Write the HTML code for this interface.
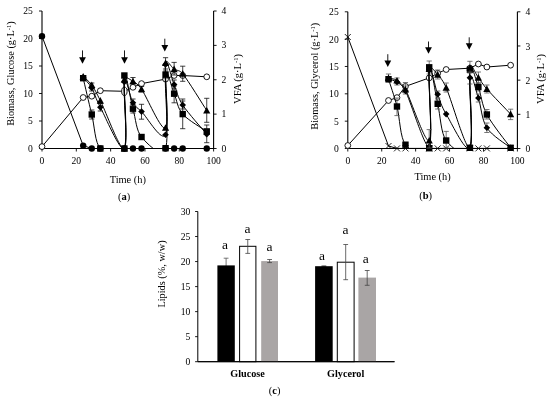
<!DOCTYPE html>
<html><head><meta charset="utf-8"><title>Figure</title>
<style>html,body{margin:0;padding:0;background:#fff}svg{display:block}</style></head>
<body>
<svg width="550" height="401" viewBox="0 0 550 401" font-family='"Liberation Serif", "Times New Roman", serif' fill="#000">
<rect width="550" height="401" fill="#fff"/>
<defs><clipPath id="clipa"><rect x="42" y="5" width="172" height="144"/></clipPath><clipPath id="clipb"><rect x="347.8" y="5" width="169.6" height="144"/></clipPath></defs>
<path d="M42,11V148.5H213.6V11" stroke="#000" stroke-width="1.1" fill="none"/>
<path d="M39,148.50H42" stroke="#000" stroke-width="0.9"/>
<text x="32.90" y="151.50" font-size="9.6" text-anchor="end" font-weight="normal">0</text>
<path d="M39,121.00H42" stroke="#000" stroke-width="0.9"/>
<text x="32.90" y="124.00" font-size="9.6" text-anchor="end" font-weight="normal">5</text>
<path d="M39,93.50H42" stroke="#000" stroke-width="0.9"/>
<text x="32.90" y="96.50" font-size="9.6" text-anchor="end" font-weight="normal">10</text>
<path d="M39,66.00H42" stroke="#000" stroke-width="0.9"/>
<text x="32.90" y="69.00" font-size="9.6" text-anchor="end" font-weight="normal">15</text>
<path d="M39,38.50H42" stroke="#000" stroke-width="0.9"/>
<text x="32.90" y="41.50" font-size="9.6" text-anchor="end" font-weight="normal">20</text>
<path d="M39,11.00H42" stroke="#000" stroke-width="0.9"/>
<text x="32.90" y="14.00" font-size="9.6" text-anchor="end" font-weight="normal">25</text>
<path d="M213.6,148.50H216.6" stroke="#000" stroke-width="0.9"/>
<text x="221.60" y="151.60" font-size="9.6" text-anchor="start" font-weight="normal">0</text>
<path d="M213.6,114.12H216.6" stroke="#000" stroke-width="0.9"/>
<text x="221.60" y="117.22" font-size="9.6" text-anchor="start" font-weight="normal">1</text>
<path d="M213.6,79.75H216.6" stroke="#000" stroke-width="0.9"/>
<text x="221.60" y="82.85" font-size="9.6" text-anchor="start" font-weight="normal">2</text>
<path d="M213.6,45.38H216.6" stroke="#000" stroke-width="0.9"/>
<text x="221.60" y="48.48" font-size="9.6" text-anchor="start" font-weight="normal">3</text>
<path d="M213.6,11.00H216.6" stroke="#000" stroke-width="0.9"/>
<text x="221.60" y="14.10" font-size="9.6" text-anchor="start" font-weight="normal">4</text>
<path d="M42.00,148.5V151.5" stroke="#000" stroke-width="0.9"/>
<text x="42.00" y="164.10" font-size="9.6" text-anchor="middle" font-weight="normal">0</text>
<path d="M76.32,148.5V151.5" stroke="#000" stroke-width="0.9"/>
<text x="76.32" y="164.10" font-size="9.6" text-anchor="middle" font-weight="normal">20</text>
<path d="M110.64,148.5V151.5" stroke="#000" stroke-width="0.9"/>
<text x="110.64" y="164.10" font-size="9.6" text-anchor="middle" font-weight="normal">40</text>
<path d="M144.96,148.5V151.5" stroke="#000" stroke-width="0.9"/>
<text x="144.96" y="164.10" font-size="9.6" text-anchor="middle" font-weight="normal">60</text>
<path d="M179.28,148.5V151.5" stroke="#000" stroke-width="0.9"/>
<text x="179.28" y="164.10" font-size="9.6" text-anchor="middle" font-weight="normal">80</text>
<path d="M213.60,148.5V151.5" stroke="#000" stroke-width="0.9"/>
<text x="213.60" y="164.10" font-size="9.6" text-anchor="middle" font-weight="normal">100</text>
<text x="14.30" y="73.60" font-size="10.35" text-anchor="middle" font-weight="normal" transform="rotate(-90 14.30 73.60)">Biomass, Glucose (g·L<tspan font-size="6.5" dy="-3.5">-1</tspan><tspan dy="3.5">)</tspan></text>
<text x="241.00" y="79.00" font-size="10.5" text-anchor="middle" font-weight="normal" transform="rotate(-90 241.00 79.00)">VFA (g·L<tspan font-size="6.5" dy="-3.5">-1</tspan><tspan dy="3.5">)</tspan></text>
<text x="127.80" y="183.20" font-size="10.4" text-anchor="middle" font-weight="normal">Time (h)</text>
<text x="124.00" y="199.50" font-size="10.5" text-anchor="middle" font-weight="normal">(<tspan font-weight="bold">a</tspan>)</text>
<path d="M42.00,36.20 L83.18,145.60 L91.76,148.50 L100.34,148.50 L124.37,148.50 L132.95,148.50 L141.53,148.50 L165.55,148.50 L174.13,148.50 L182.71,148.50 L206.74,148.50" fill="none" stroke="#000" stroke-width="1.0" stroke-linejoin="round"/>
<circle cx="42.00" cy="36.20" r="3.2" fill="#000"/>
<circle cx="83.18" cy="145.60" r="3.2" fill="#000"/>
<circle cx="91.76" cy="148.50" r="3.2" fill="#000"/>
<circle cx="100.34" cy="148.50" r="3.2" fill="#000"/>
<circle cx="124.37" cy="148.50" r="3.2" fill="#000"/>
<circle cx="132.95" cy="148.50" r="3.2" fill="#000"/>
<circle cx="141.53" cy="148.50" r="3.2" fill="#000"/>
<circle cx="165.55" cy="148.50" r="3.2" fill="#000"/>
<circle cx="174.13" cy="148.50" r="3.2" fill="#000"/>
<circle cx="182.71" cy="148.50" r="3.2" fill="#000"/>
<circle cx="206.74" cy="148.50" r="3.2" fill="#000"/>
<path d="M42.00,146.60 L83.18,97.50 L91.76,96.20 L100.34,90.70 L124.37,91.30 L132.95,87.30 L141.53,83.60 L165.55,79.10 L174.13,75.50 L182.71,75.50 L206.74,76.80" fill="none" stroke="#000" stroke-width="1.0" stroke-linejoin="round"/>
<circle cx="42.00" cy="146.60" r="2.9" fill="#fff" stroke="#000" stroke-width="0.9"/>
<circle cx="83.18" cy="97.50" r="2.9" fill="#fff" stroke="#000" stroke-width="0.9"/>
<circle cx="91.76" cy="96.20" r="2.9" fill="#fff" stroke="#000" stroke-width="0.9"/>
<circle cx="100.34" cy="90.70" r="2.9" fill="#fff" stroke="#000" stroke-width="0.9"/>
<ellipse cx="124.37" cy="91.3" rx="2.7" ry="4.2" fill="#fff" stroke="#000" stroke-width="0.9"/>
<path d="M124.37,87V95.5" stroke="#000" stroke-width="0.8"/>
<circle cx="132.95" cy="87.30" r="2.9" fill="#fff" stroke="#000" stroke-width="0.9"/>
<circle cx="141.53" cy="83.60" r="2.9" fill="#fff" stroke="#000" stroke-width="0.9"/>
<circle cx="165.55" cy="79.10" r="2.9" fill="#fff" stroke="#000" stroke-width="0.9"/>
<circle cx="174.13" cy="75.50" r="2.9" fill="#fff" stroke="#000" stroke-width="0.9"/>
<circle cx="182.71" cy="75.50" r="2.9" fill="#fff" stroke="#000" stroke-width="0.9"/>
<circle cx="206.74" cy="76.80" r="2.9" fill="#fff" stroke="#000" stroke-width="0.9"/>
<g clip-path="url(#clipa)">
<path d="M83.18,78.20 C84.61,84.25 88.90,102.78 91.76,114.50 C94.62,126.22 94.91,142.83 100.34,148.50 C105.78,154.17 120.61,159.91 124.37,148.50 C128.37,136.33 122.94,82.13 124.37,75.50 C125.80,68.87 130.09,98.45 132.95,108.70 C135.81,118.95 136.09,130.42 141.53,137.00 C146.96,143.58 161.55,158.60 165.55,148.20 C169.56,137.80 164.12,83.68 165.55,74.60 C166.98,65.52 171.27,87.12 174.13,93.70 C176.99,100.28 177.28,107.82 182.71,114.10 C188.15,120.38 202.73,128.52 206.74,131.40" fill="none" stroke="#000" stroke-width="1.0" stroke-linejoin="round"/>
</g>
<path d="M91.76,110.00V119.00M89.16,110.00H94.36M89.16,119.00H94.36" stroke="#111" stroke-width="0.8" fill="none"/>
<path d="M132.95,104.50V113.00M130.35,104.50H135.55M130.35,113.00H135.55" stroke="#111" stroke-width="0.8" fill="none"/>
<path d="M165.55,71.00V78.00M162.95,71.00H168.15M162.95,78.00H168.15" stroke="#111" stroke-width="0.8" fill="none"/>
<path d="M174.13,86.00V102.80M171.53,86.00H176.73M171.53,102.80H176.73" stroke="#111" stroke-width="0.8" fill="none"/>
<path d="M182.71,99.00V128.70M180.11,99.00H185.31M180.11,128.70H185.31" stroke="#111" stroke-width="0.8" fill="none"/>
<rect x="79.98" y="75.00" width="6.40" height="6.40" fill="#000"/>
<rect x="88.56" y="111.30" width="6.40" height="6.40" fill="#000"/>
<rect x="97.14" y="145.30" width="6.40" height="6.40" fill="#000"/>
<rect x="121.17" y="145.30" width="6.40" height="6.40" fill="#000"/>
<rect x="121.17" y="72.30" width="6.40" height="6.40" fill="#000"/>
<rect x="129.75" y="105.50" width="6.40" height="6.40" fill="#000"/>
<rect x="138.33" y="133.80" width="6.40" height="6.40" fill="#000"/>
<rect x="162.35" y="145.00" width="6.40" height="6.40" fill="#000"/>
<rect x="162.35" y="71.40" width="6.40" height="6.40" fill="#000"/>
<rect x="170.93" y="90.50" width="6.40" height="6.40" fill="#000"/>
<rect x="179.51" y="110.90" width="6.40" height="6.40" fill="#000"/>
<rect x="203.54" y="128.20" width="6.40" height="6.40" fill="#000"/>
<g clip-path="url(#clipa)">
<path d="M83.18,77.50 C84.61,79.25 88.90,83.03 91.76,88.00 C94.62,92.97 95.33,98.00 100.34,107.30 C105.78,117.38 120.36,152.72 124.37,148.50 C128.37,144.28 122.94,89.62 124.37,82.00 C125.80,74.38 130.09,97.87 132.95,102.80 C135.81,107.73 137.14,107.30 141.53,111.60 C146.96,116.92 161.55,142.55 165.55,134.70 C169.56,126.85 164.12,72.85 165.55,64.50 C166.98,56.15 171.27,77.85 174.13,84.60 C176.99,91.35 177.28,96.73 182.71,105.00 C188.15,113.27 202.73,129.33 206.74,134.20" fill="none" stroke="#000" stroke-width="1.0" stroke-linejoin="round"/>
</g>
<path d="M91.76,83.00V91.00M89.16,83.00H94.36M89.16,91.00H94.36" stroke="#111" stroke-width="0.8" fill="none"/>
<path d="M100.34,103.50V111.00M97.74,103.50H102.94M97.74,111.00H102.94" stroke="#111" stroke-width="0.8" fill="none"/>
<path d="M132.95,99.00V106.50M130.35,99.00H135.55M130.35,106.50H135.55" stroke="#111" stroke-width="0.8" fill="none"/>
<path d="M141.53,104.30V119.20M138.93,104.30H144.13M138.93,119.20H144.13" stroke="#111" stroke-width="0.8" fill="none"/>
<path d="M174.13,80.00V89.00M171.53,80.00H176.73M171.53,89.00H176.73" stroke="#111" stroke-width="0.8" fill="none"/>
<path d="M182.71,101.00V109.00M180.11,101.00H185.31M180.11,109.00H185.31" stroke="#111" stroke-width="0.8" fill="none"/>
<path d="M206.74,125.00V142.70M204.14,125.00H209.34M204.14,142.70H209.34" stroke="#111" stroke-width="0.8" fill="none"/>
<path d="M83.18,74.20L86.48,77.50L83.18,80.80L79.88,77.50Z" fill="#000"/>
<path d="M91.76,84.70L95.06,88.00L91.76,91.30L88.46,88.00Z" fill="#000"/>
<path d="M100.34,104.00L103.64,107.30L100.34,110.60L97.04,107.30Z" fill="#000"/>
<path d="M124.37,145.20L127.67,148.50L124.37,151.80L121.07,148.50Z" fill="#000"/>
<path d="M124.37,78.70L127.67,82.00L124.37,85.30L121.07,82.00Z" fill="#000"/>
<path d="M132.95,99.50L136.25,102.80L132.95,106.10L129.65,102.80Z" fill="#000"/>
<path d="M141.53,108.30L144.83,111.60L141.53,114.90L138.23,111.60Z" fill="#000"/>
<path d="M165.55,131.40L168.85,134.70L165.55,138.00L162.25,134.70Z" fill="#000"/>
<path d="M165.55,61.20L168.85,64.50L165.55,67.80L162.25,64.50Z" fill="#000"/>
<path d="M174.13,81.30L177.43,84.60L174.13,87.90L170.83,84.60Z" fill="#000"/>
<path d="M182.71,101.70L186.01,105.00L182.71,108.30L179.41,105.00Z" fill="#000"/>
<path d="M206.74,130.90L210.04,134.20L206.74,137.50L203.44,134.20Z" fill="#000"/>
<g clip-path="url(#clipa)">
<path d="M83.18,76.50 C84.61,77.92 88.90,80.98 91.76,85.00 C94.62,89.02 96.28,92.68 100.34,100.60 C105.78,111.18 120.36,152.02 124.37,148.50 C128.37,144.98 122.94,90.70 124.37,79.50 C124.92,75.15 130.09,79.68 132.95,81.30 C135.81,82.92 138.18,84.43 141.53,89.20 C146.96,96.95 161.55,132.17 165.55,127.80 C169.56,123.43 164.12,72.78 165.55,63.00 C166.31,57.79 171.27,67.32 174.13,69.10 C176.99,70.88 179.70,69.88 182.71,73.70 C188.15,80.60 202.73,104.37 206.74,110.50" fill="none" stroke="#000" stroke-width="1.0" stroke-linejoin="round"/>
</g>
<path d="M132.95,77.50V84.00M130.35,77.50H135.55M130.35,84.00H135.55" stroke="#111" stroke-width="0.8" fill="none"/>
<path d="M141.53,86.50V92.00M138.93,86.50H144.13M138.93,92.00H144.13" stroke="#111" stroke-width="0.8" fill="none"/>
<path d="M165.55,57.70V69.00M162.95,57.70H168.15M162.95,69.00H168.15" stroke="#111" stroke-width="0.8" fill="none"/>
<path d="M174.13,62.40V75.00M171.53,62.40H176.73M171.53,75.00H176.73" stroke="#111" stroke-width="0.8" fill="none"/>
<path d="M182.71,66.20V81.30M180.11,66.20H185.31M180.11,81.30H185.31" stroke="#111" stroke-width="0.8" fill="none"/>
<path d="M206.74,98.30V122.30M204.14,98.30H209.34M204.14,122.30H209.34" stroke="#111" stroke-width="0.8" fill="none"/>
<path d="M83.18,72.90L86.78,79.56L79.58,79.56Z" fill="#000"/>
<path d="M91.76,81.40L95.36,88.06L88.16,88.06Z" fill="#000"/>
<path d="M100.34,97.00L103.94,103.66L96.74,103.66Z" fill="#000"/>
<path d="M124.37,144.90L127.97,151.56L120.77,151.56Z" fill="#000"/>
<path d="M124.37,75.90L127.97,82.56L120.77,82.56Z" fill="#000"/>
<path d="M132.95,77.70L136.55,84.36L129.35,84.36Z" fill="#000"/>
<path d="M141.53,85.60L145.13,92.26L137.93,92.26Z" fill="#000"/>
<path d="M165.55,124.20L169.15,130.86L161.95,130.86Z" fill="#000"/>
<path d="M165.55,59.40L169.15,66.06L161.95,66.06Z" fill="#000"/>
<path d="M174.13,65.50L177.73,72.16L170.53,72.16Z" fill="#000"/>
<path d="M182.71,70.10L186.31,76.76L179.11,76.76Z" fill="#000"/>
<path d="M206.74,106.90L210.34,113.56L203.14,113.56Z" fill="#000"/>
<path d="M82.50,50.40V58.20" stroke="#000" stroke-width="0.9" fill="none"/>
<path d="M79.10,57.20H85.90L82.50,63.70Z" fill="#000"/>
<path d="M124.50,50.40V58.20" stroke="#000" stroke-width="0.9" fill="none"/>
<path d="M121.10,57.20H127.90L124.50,63.70Z" fill="#000"/>
<path d="M164.80,38.70V45.90" stroke="#000" stroke-width="0.9" fill="none"/>
<path d="M161.40,44.90H168.20L164.80,51.40Z" fill="#000"/>
<path d="M347.8,11.8V148.5H517.4V11.8" stroke="#000" stroke-width="1.1" fill="none"/>
<path d="M344.8,148.50H347.8" stroke="#000" stroke-width="0.9"/>
<text x="338.70" y="152.00" font-size="9.6" text-anchor="end" font-weight="normal">0</text>
<path d="M344.8,121.16H347.8" stroke="#000" stroke-width="0.9"/>
<text x="338.70" y="124.66" font-size="9.6" text-anchor="end" font-weight="normal">5</text>
<path d="M344.8,93.82H347.8" stroke="#000" stroke-width="0.9"/>
<text x="338.70" y="97.32" font-size="9.6" text-anchor="end" font-weight="normal">10</text>
<path d="M344.8,66.48H347.8" stroke="#000" stroke-width="0.9"/>
<text x="338.70" y="69.98" font-size="9.6" text-anchor="end" font-weight="normal">15</text>
<path d="M344.8,39.14H347.8" stroke="#000" stroke-width="0.9"/>
<text x="338.70" y="42.64" font-size="9.6" text-anchor="end" font-weight="normal">20</text>
<path d="M344.8,11.80H347.8" stroke="#000" stroke-width="0.9"/>
<text x="338.70" y="15.30" font-size="9.6" text-anchor="end" font-weight="normal">25</text>
<path d="M517.4,148.50H520.4" stroke="#000" stroke-width="0.9"/>
<text x="525.40" y="152.10" font-size="9.6" text-anchor="start" font-weight="normal">0</text>
<path d="M517.4,114.33H520.4" stroke="#000" stroke-width="0.9"/>
<text x="525.40" y="117.92" font-size="9.6" text-anchor="start" font-weight="normal">1</text>
<path d="M517.4,80.15H520.4" stroke="#000" stroke-width="0.9"/>
<text x="525.40" y="83.75" font-size="9.6" text-anchor="start" font-weight="normal">2</text>
<path d="M517.4,45.98H520.4" stroke="#000" stroke-width="0.9"/>
<text x="525.40" y="49.58" font-size="9.6" text-anchor="start" font-weight="normal">3</text>
<path d="M517.4,11.80H520.4" stroke="#000" stroke-width="0.9"/>
<text x="525.40" y="15.40" font-size="9.6" text-anchor="start" font-weight="normal">4</text>
<path d="M347.80,148.5V151.5" stroke="#000" stroke-width="0.9"/>
<text x="347.80" y="164.10" font-size="9.6" text-anchor="middle" font-weight="normal">0</text>
<path d="M381.72,148.5V151.5" stroke="#000" stroke-width="0.9"/>
<text x="381.72" y="164.10" font-size="9.6" text-anchor="middle" font-weight="normal">20</text>
<path d="M415.64,148.5V151.5" stroke="#000" stroke-width="0.9"/>
<text x="415.64" y="164.10" font-size="9.6" text-anchor="middle" font-weight="normal">40</text>
<path d="M449.56,148.5V151.5" stroke="#000" stroke-width="0.9"/>
<text x="449.56" y="164.10" font-size="9.6" text-anchor="middle" font-weight="normal">60</text>
<path d="M483.48,148.5V151.5" stroke="#000" stroke-width="0.9"/>
<text x="483.48" y="164.10" font-size="9.6" text-anchor="middle" font-weight="normal">80</text>
<path d="M517.40,148.5V151.5" stroke="#000" stroke-width="0.9"/>
<text x="517.40" y="164.10" font-size="9.6" text-anchor="middle" font-weight="normal">100</text>
<text x="318.30" y="76.25" font-size="10.35" text-anchor="middle" font-weight="normal" transform="rotate(-90 318.30 76.25)">Biomass, Glycerol (g·L<tspan font-size="6.5" dy="-3.5">-1</tspan><tspan dy="3.5">)</tspan></text>
<text x="544.00" y="79.00" font-size="10.5" text-anchor="middle" font-weight="normal" transform="rotate(-90 544.00 79.00)">VFA (g·L<tspan font-size="6.5" dy="-3.5">-1</tspan><tspan dy="3.5">)</tspan></text>
<text x="432.60" y="180.40" font-size="10.4" text-anchor="middle" font-weight="normal">Time (h)</text>
<text x="425.70" y="199.20" font-size="10.5" text-anchor="middle" font-weight="normal">(<tspan font-weight="bold">b</tspan>)</text>
<path d="M347.80,37.00 L388.50,146.00 L396.98,148.40 L405.46,148.40 L429.21,148.40 L437.69,148.40 L446.17,148.40 L469.91,148.40 L478.39,148.40 L486.87,148.40 L510.62,148.40" fill="none" stroke="#000" stroke-width="1.0" stroke-linejoin="round"/>
<path d="M344.80,34.00L350.80,40.00M344.80,40.00L350.80,34.00" stroke="#000" stroke-width="0.85" fill="none"/>
<path d="M385.50,143.00L391.50,149.00M385.50,149.00L391.50,143.00" stroke="#000" stroke-width="0.85" fill="none"/>
<path d="M393.98,145.40L399.98,151.40M393.98,151.40L399.98,145.40" stroke="#000" stroke-width="0.85" fill="none"/>
<path d="M402.46,145.40L408.46,151.40M402.46,151.40L408.46,145.40" stroke="#000" stroke-width="0.85" fill="none"/>
<path d="M426.21,145.40L432.21,151.40M426.21,151.40L432.21,145.40" stroke="#000" stroke-width="0.85" fill="none"/>
<path d="M434.69,145.40L440.69,151.40M434.69,151.40L440.69,145.40" stroke="#000" stroke-width="0.85" fill="none"/>
<path d="M443.17,145.40L449.17,151.40M443.17,151.40L449.17,145.40" stroke="#000" stroke-width="0.85" fill="none"/>
<path d="M466.91,145.40L472.91,151.40M466.91,151.40L472.91,145.40" stroke="#000" stroke-width="0.85" fill="none"/>
<path d="M475.39,145.40L481.39,151.40M475.39,151.40L481.39,145.40" stroke="#000" stroke-width="0.85" fill="none"/>
<path d="M483.87,145.40L489.87,151.40M483.87,151.40L489.87,145.40" stroke="#000" stroke-width="0.85" fill="none"/>
<path d="M507.62,145.40L513.62,151.40M507.62,151.40L513.62,145.40" stroke="#000" stroke-width="0.85" fill="none"/>
<path d="M347.80,145.50 L388.50,100.50 L396.98,97.60 L405.46,86.40 L429.21,77.90 L437.69,73.30 L446.17,69.50 L469.91,68.20 L478.39,64.00 L486.87,67.00 L510.62,65.20" fill="none" stroke="#000" stroke-width="1.0" stroke-linejoin="round"/>
<circle cx="347.80" cy="145.50" r="2.9" fill="#fff" stroke="#000" stroke-width="0.9"/>
<circle cx="388.50" cy="100.50" r="2.9" fill="#fff" stroke="#000" stroke-width="0.9"/>
<circle cx="396.98" cy="97.60" r="2.9" fill="#fff" stroke="#000" stroke-width="0.9"/>
<circle cx="405.46" cy="86.40" r="2.9" fill="#fff" stroke="#000" stroke-width="0.9"/>
<circle cx="429.21" cy="77.90" r="2.9" fill="#fff" stroke="#000" stroke-width="0.9"/>
<circle cx="437.69" cy="73.30" r="2.9" fill="#fff" stroke="#000" stroke-width="0.9"/>
<circle cx="446.17" cy="69.50" r="2.9" fill="#fff" stroke="#000" stroke-width="0.9"/>
<circle cx="469.91" cy="68.20" r="2.9" fill="#fff" stroke="#000" stroke-width="0.9"/>
<circle cx="478.39" cy="64.00" r="2.9" fill="#fff" stroke="#000" stroke-width="0.9"/>
<circle cx="486.87" cy="67.00" r="2.9" fill="#fff" stroke="#000" stroke-width="0.9"/>
<circle cx="510.62" cy="65.20" r="2.9" fill="#fff" stroke="#000" stroke-width="0.9"/>
<g clip-path="url(#clipb)">
<path d="M388.50,79.20 C389.92,83.75 394.16,95.58 396.98,106.50 C399.81,117.42 400.09,137.75 405.46,144.70 C410.83,151.65 425.69,159.67 429.21,148.20 C433.17,135.30 427.79,74.70 429.21,67.30 C430.62,59.90 434.86,91.60 437.69,103.80 C440.51,116.00 440.80,133.17 446.17,140.50 C451.54,147.83 465.96,159.58 469.91,147.80 C473.87,136.00 468.50,79.83 469.91,69.70 C471.24,60.16 475.57,79.53 478.39,87.00 C481.22,94.47 481.50,104.37 486.87,114.50 C492.24,124.63 506.66,142.25 510.62,147.80" fill="none" stroke="#000" stroke-width="1.0" stroke-linejoin="round"/>
</g>
<path d="M388.50,74.00V82.00M385.90,74.00H391.10M385.90,82.00H391.10" stroke="#555" stroke-width="0.8" fill="none"/>
<path d="M396.98,98.00V115.60M394.38,98.00H399.58M394.38,115.60H399.58" stroke="#555" stroke-width="0.8" fill="none"/>
<path d="M429.21,61.00V74.00M426.61,61.00H431.81M426.61,74.00H431.81" stroke="#555" stroke-width="0.8" fill="none"/>
<path d="M437.69,99.00V109.00M435.09,99.00H440.29M435.09,109.00H440.29" stroke="#555" stroke-width="0.8" fill="none"/>
<path d="M446.17,131.40V148.00M443.57,131.40H448.77M443.57,148.00H448.77" stroke="#555" stroke-width="0.8" fill="none"/>
<path d="M478.39,83.00V91.00M475.79,83.00H480.99M475.79,91.00H480.99" stroke="#555" stroke-width="0.8" fill="none"/>
<path d="M486.87,109.50V119.00M484.27,109.50H489.47M484.27,119.00H489.47" stroke="#555" stroke-width="0.8" fill="none"/>
<rect x="385.30" y="76.00" width="6.40" height="6.40" fill="#000"/>
<rect x="393.78" y="103.30" width="6.40" height="6.40" fill="#000"/>
<rect x="402.26" y="141.50" width="6.40" height="6.40" fill="#000"/>
<rect x="426.01" y="145.00" width="6.40" height="6.40" fill="#000"/>
<rect x="426.01" y="64.10" width="6.40" height="6.40" fill="#000"/>
<rect x="434.49" y="100.60" width="6.40" height="6.40" fill="#000"/>
<rect x="442.97" y="137.30" width="6.40" height="6.40" fill="#000"/>
<rect x="466.71" y="144.60" width="6.40" height="6.40" fill="#000"/>
<rect x="466.71" y="66.50" width="6.40" height="6.40" fill="#000"/>
<rect x="475.19" y="83.80" width="6.40" height="6.40" fill="#000"/>
<rect x="483.67" y="111.30" width="6.40" height="6.40" fill="#000"/>
<rect x="507.42" y="144.60" width="6.40" height="6.40" fill="#000"/>
<g clip-path="url(#clipb)">
<path d="M388.50,79.30 C389.92,79.75 394.16,80.05 396.98,82.00 C399.81,83.95 402.70,85.47 405.46,91.00 C410.83,101.75 425.25,149.92 429.21,146.50 C433.17,143.08 427.79,79.20 429.21,70.50 C430.62,61.80 434.86,87.03 437.69,94.30 C440.51,101.57 440.80,105.18 446.17,114.10 C451.54,123.02 465.95,153.87 469.91,147.80 C473.87,141.73 468.50,86.00 469.91,77.70 C471.33,69.40 475.57,89.65 478.39,98.00 C481.22,106.35 481.50,119.50 486.87,127.80 C492.24,136.10 506.66,144.47 510.62,147.80" fill="none" stroke="#000" stroke-width="1.0" stroke-linejoin="round"/>
</g>
<path d="M396.98,78.00V85.00M394.38,78.00H399.58M394.38,85.00H399.58" stroke="#555" stroke-width="0.8" fill="none"/>
<path d="M405.46,86.00V94.00M402.86,86.00H408.06M402.86,94.00H408.06" stroke="#555" stroke-width="0.8" fill="none"/>
<path d="M437.69,91.00V98.00M435.09,91.00H440.29M435.09,98.00H440.29" stroke="#555" stroke-width="0.8" fill="none"/>
<path d="M469.91,72.00V84.00M467.31,72.00H472.51M467.31,84.00H472.51" stroke="#555" stroke-width="0.8" fill="none"/>
<path d="M478.39,94.00V102.00M475.79,94.00H480.99M475.79,102.00H480.99" stroke="#555" stroke-width="0.8" fill="none"/>
<path d="M486.87,123.00V132.50M484.27,123.00H489.47M484.27,132.50H489.47" stroke="#555" stroke-width="0.8" fill="none"/>
<path d="M388.50,76.00L391.80,79.30L388.50,82.60L385.20,79.30Z" fill="#000"/>
<path d="M396.98,78.70L400.28,82.00L396.98,85.30L393.68,82.00Z" fill="#000"/>
<path d="M405.46,87.70L408.76,91.00L405.46,94.30L402.16,91.00Z" fill="#000"/>
<path d="M429.21,143.20L432.51,146.50L429.21,149.80L425.91,146.50Z" fill="#000"/>
<path d="M429.21,67.20L432.51,70.50L429.21,73.80L425.91,70.50Z" fill="#000"/>
<path d="M437.69,91.00L440.99,94.30L437.69,97.60L434.39,94.30Z" fill="#000"/>
<path d="M446.17,110.80L449.47,114.10L446.17,117.40L442.87,114.10Z" fill="#000"/>
<path d="M469.91,144.50L473.21,147.80L469.91,151.10L466.61,147.80Z" fill="#000"/>
<path d="M469.91,74.40L473.21,77.70L469.91,81.00L466.61,77.70Z" fill="#000"/>
<path d="M478.39,94.70L481.69,98.00L478.39,101.30L475.09,98.00Z" fill="#000"/>
<path d="M486.87,124.50L490.17,127.80L486.87,131.10L483.57,127.80Z" fill="#000"/>
<path d="M510.62,144.50L513.92,147.80L510.62,151.10L507.32,147.80Z" fill="#000"/>
<g clip-path="url(#clipb)">
<path d="M388.50,78.00 C389.92,78.42 394.16,78.58 396.98,80.50 C399.81,82.42 402.54,84.05 405.46,89.50 C410.83,99.50 425.25,143.92 429.21,140.50 C433.17,137.08 427.79,79.98 429.21,69.00 C429.86,63.96 434.86,71.48 437.69,74.60 C440.51,77.72 443.02,80.56 446.17,87.70 C451.54,99.90 465.95,151.17 469.91,147.80 C473.87,144.43 468.50,79.18 469.91,67.50 C470.71,60.92 475.57,74.12 478.39,77.70 C481.22,81.28 482.19,83.71 486.87,89.00 C492.24,95.07 506.66,109.92 510.62,114.10" fill="none" stroke="#000" stroke-width="1.0" stroke-linejoin="round"/>
</g>
<path d="M405.46,82.50V90.00M402.86,82.50H408.06M402.86,90.00H408.06" stroke="#555" stroke-width="0.8" fill="none"/>
<path d="M429.21,129.60V148.00M426.61,129.60H431.81M426.61,148.00H431.81" stroke="#555" stroke-width="0.8" fill="none"/>
<path d="M437.69,70.00V79.00M435.09,70.00H440.29M435.09,79.00H440.29" stroke="#555" stroke-width="0.8" fill="none"/>
<path d="M446.17,83.00V92.00M443.57,83.00H448.77M443.57,92.00H448.77" stroke="#555" stroke-width="0.8" fill="none"/>
<path d="M469.91,61.30V73.00M467.31,61.30H472.51M467.31,73.00H472.51" stroke="#555" stroke-width="0.8" fill="none"/>
<path d="M478.39,72.00V83.00M475.79,72.00H480.99M475.79,83.00H480.99" stroke="#555" stroke-width="0.8" fill="none"/>
<path d="M486.87,85.00V93.00M484.27,85.00H489.47M484.27,93.00H489.47" stroke="#555" stroke-width="0.8" fill="none"/>
<path d="M510.62,109.20V119.60M508.02,109.20H513.22M508.02,119.60H513.22" stroke="#555" stroke-width="0.8" fill="none"/>
<path d="M388.50,74.40L392.10,81.06L384.90,81.06Z" fill="#000"/>
<path d="M396.98,76.90L400.58,83.56L393.38,83.56Z" fill="#000"/>
<path d="M405.46,85.90L409.06,92.56L401.86,92.56Z" fill="#000"/>
<path d="M429.21,136.90L432.81,143.56L425.61,143.56Z" fill="#000"/>
<path d="M429.21,65.40L432.81,72.06L425.61,72.06Z" fill="#000"/>
<path d="M437.69,71.00L441.29,77.66L434.09,77.66Z" fill="#000"/>
<path d="M446.17,84.10L449.77,90.76L442.57,90.76Z" fill="#000"/>
<path d="M469.91,144.20L473.51,150.86L466.31,150.86Z" fill="#000"/>
<path d="M469.91,63.90L473.51,70.56L466.31,70.56Z" fill="#000"/>
<path d="M478.39,74.10L481.99,80.76L474.79,80.76Z" fill="#000"/>
<path d="M486.87,85.40L490.47,92.06L483.27,92.06Z" fill="#000"/>
<path d="M510.62,110.50L514.22,117.16L507.02,117.16Z" fill="#000"/>
<path d="M387.80,54.20V61.50" stroke="#000" stroke-width="0.9" fill="none"/>
<path d="M384.40,60.50H391.20L387.80,67.00Z" fill="#000"/>
<path d="M428.51,41.50V48.30" stroke="#000" stroke-width="0.9" fill="none"/>
<path d="M425.11,47.30H431.91L428.51,53.80Z" fill="#000"/>
<path d="M469.21,37.30V44.30" stroke="#000" stroke-width="0.9" fill="none"/>
<path d="M465.81,43.30H472.61L469.21,49.80Z" fill="#000"/>
<path d="M197.8,211.5V361.7H394.5" stroke="#000" stroke-width="1" fill="none"/>
<path d="M195.10000000000002,361.70H197.8" stroke="#000" stroke-width="0.9"/>
<text x="190.40" y="364.80" font-size="9.6" text-anchor="end" font-weight="normal">0</text>
<path d="M195.10000000000002,336.67H197.8" stroke="#000" stroke-width="0.9"/>
<text x="190.40" y="339.77" font-size="9.6" text-anchor="end" font-weight="normal">5</text>
<path d="M195.10000000000002,311.63H197.8" stroke="#000" stroke-width="0.9"/>
<text x="190.40" y="314.73" font-size="9.6" text-anchor="end" font-weight="normal">10</text>
<path d="M195.10000000000002,286.60H197.8" stroke="#000" stroke-width="0.9"/>
<text x="190.40" y="289.70" font-size="9.6" text-anchor="end" font-weight="normal">15</text>
<path d="M195.10000000000002,261.57H197.8" stroke="#000" stroke-width="0.9"/>
<text x="190.40" y="264.67" font-size="9.6" text-anchor="end" font-weight="normal">20</text>
<path d="M195.10000000000002,236.53H197.8" stroke="#000" stroke-width="0.9"/>
<text x="190.40" y="239.63" font-size="9.6" text-anchor="end" font-weight="normal">25</text>
<path d="M195.10000000000002,211.50H197.8" stroke="#000" stroke-width="0.9"/>
<text x="190.40" y="214.60" font-size="9.6" text-anchor="end" font-weight="normal">30</text>
<path d="M226.10,258.20V272.60M223.70,258.20H228.50M223.70,272.60H228.50" stroke="#555" stroke-width="0.8" fill="none"/>
<rect x="217.40" y="265.40" width="17.40" height="96.30" fill="#000"/>
<rect x="239.60" y="246.30" width="16.30" height="115.40" fill="#fff" stroke="#000" stroke-width="1"/>
<path d="M247.75,239.50V253.40M245.35,239.50H250.15M245.35,253.40H250.15" stroke="#444" stroke-width="0.8" fill="none"/>
<rect x="261.20" y="261.10" width="16.80" height="100.60" fill="#a9a5a5"/>
<path d="M269.60,259.50V262.60M267.20,259.50H272.00M267.20,262.60H272.00" stroke="#444" stroke-width="0.8" fill="none"/>
<path d="M323.90,265.80V266.60M321.50,265.80H326.30M321.50,266.60H326.30" stroke="#555" stroke-width="0.8" fill="none"/>
<rect x="315.10" y="266.20" width="17.60" height="95.50" fill="#000"/>
<rect x="337.30" y="262.20" width="16.80" height="99.50" fill="#fff" stroke="#000" stroke-width="1"/>
<path d="M345.70,244.50V279.70M343.30,244.50H348.10M343.30,279.70H348.10" stroke="#444" stroke-width="0.8" fill="none"/>
<rect x="358.40" y="277.60" width="17.60" height="84.10" fill="#a9a5a5"/>
<path d="M367.20,270.50V285.30M364.80,270.50H369.60M364.80,285.30H369.60" stroke="#444" stroke-width="0.8" fill="none"/>
<path d="M197.8,361.7H394.5" stroke="#000" stroke-width="1" fill="none"/>
<text x="225.10" y="248.90" font-size="13.5" text-anchor="middle" font-weight="normal">a</text>
<text x="247.50" y="233.20" font-size="13.5" text-anchor="middle" font-weight="normal">a</text>
<text x="269.60" y="251.20" font-size="13.5" text-anchor="middle" font-weight="normal">a</text>
<text x="322.00" y="260.00" font-size="13.5" text-anchor="middle" font-weight="normal">a</text>
<text x="345.40" y="234.00" font-size="13.5" text-anchor="middle" font-weight="normal">a</text>
<text x="365.80" y="263.20" font-size="13.5" text-anchor="middle" font-weight="normal">a</text>
<text x="247.60" y="377.10" font-size="10.2" text-anchor="middle" font-weight="bold">Glucose</text>
<text x="345.70" y="377.10" font-size="10.2" text-anchor="middle" font-weight="bold">Glycerol</text>
<text x="164.50" y="274.00" font-size="10.3" text-anchor="middle" font-weight="normal" transform="rotate(-90 164.50 274.00)">Lipids (%, w/w)</text>
<text x="274.70" y="393.50" font-size="10.5" text-anchor="middle" font-weight="normal">(<tspan font-weight="bold">c</tspan>)</text>
</svg>
</body></html>
